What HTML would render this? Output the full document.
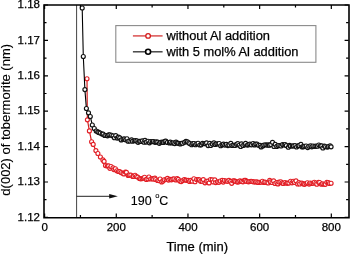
<!DOCTYPE html>
<html><head><meta charset="utf-8"><style>
html,body{margin:0;padding:0;background:#fff;}
svg{display:block;}
text{font-family:"Liberation Sans",Arial,sans-serif;fill:#000;stroke:#000;stroke-width:0.25px;}
</style></head><body>
<svg width="350" height="254" viewBox="0 0 350 254">
<rect width="350" height="254" fill="#fff"/>
<line x1="76.6" y1="5" x2="76.6" y2="217" stroke="#444" stroke-width="1"/>
<line x1="76.6" y1="196.3" x2="110" y2="196.3" stroke="#222" stroke-width="1"/>
<path d="M109.2 193.9L117.8 196.3L109.2 198.5Z" fill="#111"/>
<text x="130.8" y="205.4" font-size="12.5" style="stroke-width:0.12px">190 <tspan font-size="7.5" dy="-7.3">o</tspan><tspan dy="7.3">C</tspan></text>
<g fill="none" stroke-width="1">
<polyline points="87.0,78.7 87.4,119.8 89.4,130.9 91.6,141.7 93.2,144.4 95.9,150.6 97.9,153.5 100.4,157.0 102.9,159.9 104.1,161.4 105.5,165.6 107.4,166.1 108.6,165.9 109.9,168.3 111.0,166.5 113.0,167.8 113.9,169.6 115.4,168.7 116.9,170.7 118.4,171.5 119.7,171.6 121.1,172.6 122.9,173.3 123.9,173.9 125.4,172.1 126.4,172.3 128.2,175.5 129.2,175.0 130.8,175.1 132.8,176.4 133.5,176.3 135.1,175.2 136.3,176.5 137.7,177.1 139.5,178.5 140.6,178.8 142.1,178.6 143.4,178.0 144.6,177.2 146.3,179.4 147.9,178.9 148.9,177.0 150.6,179.0 152.1,178.5 153.1,179.1 154.9,178.1 155.7,179.5 157.6,180.5 158.8,180.6 160.1,179.0 161.7,181.9 163.0,181.0 164.2,179.7 166.1,179.2 167.5,178.4 168.5,180.1 170.0,179.3 171.4,179.8 172.8,179.1 174.0,178.9 175.9,179.9 177.1,178.5 178.3,179.4 179.8,181.0 181.1,181.6 182.7,180.6 184.2,179.5 185.6,180.1 186.7,180.3 188.3,180.3 189.5,181.4 190.8,180.4 192.3,181.2 193.9,178.7 195.0,181.7 196.6,179.5 198.2,179.5 199.4,179.9 200.7,181.3 202.1,181.2 203.3,179.6 205.0,182.8 206.5,181.2 207.9,181.1 209.1,182.9 210.5,179.5 212.2,179.8 213.3,182.0 214.8,179.8 215.7,182.6 217.5,181.8 218.9,182.3 220.2,181.0 222.2,180.3 223.2,182.1 224.3,180.5 226.1,181.0 227.5,181.3 228.9,180.3 230.6,181.4 231.7,183.3 233.1,180.7 234.4,180.9 235.7,181.4 237.3,182.1 238.7,181.8 239.9,180.8 241.4,181.3 242.9,181.8 244.3,180.3 245.6,180.3 246.7,181.4 248.5,181.8 249.8,181.5 251.1,181.4 252.6,181.5 253.9,181.9 255.5,182.0 256.8,181.7 258.0,182.4 259.7,182.3 261.2,182.2 262.4,181.2 264.0,182.5 265.0,182.1 266.9,182.5 268.1,183.0 269.7,180.4 270.4,181.9 272.0,182.5 273.6,180.9 275.0,183.5 276.8,182.5 277.9,183.9 279.0,182.1 280.8,181.7 282.1,182.9 283.3,183.5 285.0,182.5 286.5,183.2 287.6,183.1 288.9,183.1 290.6,181.2 292.0,182.8 293.2,181.2 294.5,182.4 296.0,180.8 297.6,184.0 298.9,182.6 299.7,184.0 301.8,183.1 303.4,183.9 304.6,184.3 306.1,183.5 307.3,182.7 309.1,184.1 310.1,183.0 311.8,183.4 313.2,183.2 314.3,182.2 315.9,183.0 316.8,184.2 318.6,182.3 319.6,182.5 321.4,184.2 322.6,183.7 324.1,184.2 325.3,184.3 326.9,182.3 328.4,182.5 329.5,183.5 331.1,183.2" stroke="#d42020" stroke-width="1.2"/>
<g stroke="#e21f26" stroke-width="1.15" fill="#fff"><circle cx="87.0" cy="78.7" r="2.0"/><circle cx="87.4" cy="119.8" r="2.0"/><circle cx="89.4" cy="130.9" r="2.0"/><circle cx="91.6" cy="141.7" r="2.0"/><circle cx="93.2" cy="144.4" r="2.0"/><circle cx="95.9" cy="150.6" r="2.0"/><circle cx="97.9" cy="153.5" r="2.0"/><circle cx="100.4" cy="157.0" r="2.0"/><circle cx="102.9" cy="159.9" r="2.0"/><circle cx="104.1" cy="161.4" r="2.0"/><circle cx="105.5" cy="165.6" r="2.0"/><circle cx="107.4" cy="166.1" r="2.0"/><circle cx="108.6" cy="165.9" r="2.0"/><circle cx="109.9" cy="168.3" r="2.0"/><circle cx="111.0" cy="166.5" r="2.0"/><circle cx="113.0" cy="167.8" r="2.0"/><circle cx="113.9" cy="169.6" r="2.0"/><circle cx="115.4" cy="168.7" r="2.0"/><circle cx="116.9" cy="170.7" r="2.0"/><circle cx="118.4" cy="171.5" r="2.0"/><circle cx="119.7" cy="171.6" r="2.0"/><circle cx="121.1" cy="172.6" r="2.0"/><circle cx="122.9" cy="173.3" r="2.0"/><circle cx="123.9" cy="173.9" r="2.0"/><circle cx="125.4" cy="172.1" r="2.0"/><circle cx="126.4" cy="172.3" r="2.0"/><circle cx="128.2" cy="175.5" r="2.0"/><circle cx="129.2" cy="175.0" r="2.0"/><circle cx="130.8" cy="175.1" r="2.0"/><circle cx="132.8" cy="176.4" r="2.0"/><circle cx="133.5" cy="176.3" r="2.0"/><circle cx="135.1" cy="175.2" r="2.0"/><circle cx="136.3" cy="176.5" r="2.0"/><circle cx="137.7" cy="177.1" r="2.0"/><circle cx="139.5" cy="178.5" r="2.0"/><circle cx="140.6" cy="178.8" r="2.0"/><circle cx="142.1" cy="178.6" r="2.0"/><circle cx="143.4" cy="178.0" r="2.0"/><circle cx="144.6" cy="177.2" r="2.0"/><circle cx="146.3" cy="179.4" r="2.0"/><circle cx="147.9" cy="178.9" r="2.0"/><circle cx="148.9" cy="177.0" r="2.0"/><circle cx="150.6" cy="179.0" r="2.0"/><circle cx="152.1" cy="178.5" r="2.0"/><circle cx="153.1" cy="179.1" r="2.0"/><circle cx="154.9" cy="178.1" r="2.0"/><circle cx="155.7" cy="179.5" r="2.0"/><circle cx="157.6" cy="180.5" r="2.0"/><circle cx="158.8" cy="180.6" r="2.0"/><circle cx="160.1" cy="179.0" r="2.0"/><circle cx="161.7" cy="181.9" r="2.0"/><circle cx="163.0" cy="181.0" r="2.0"/><circle cx="164.2" cy="179.7" r="2.0"/><circle cx="166.1" cy="179.2" r="2.0"/><circle cx="167.5" cy="178.4" r="2.0"/><circle cx="168.5" cy="180.1" r="2.0"/><circle cx="170.0" cy="179.3" r="2.0"/><circle cx="171.4" cy="179.8" r="2.0"/><circle cx="172.8" cy="179.1" r="2.0"/><circle cx="174.0" cy="178.9" r="2.0"/><circle cx="175.9" cy="179.9" r="2.0"/><circle cx="177.1" cy="178.5" r="2.0"/><circle cx="178.3" cy="179.4" r="2.0"/><circle cx="179.8" cy="181.0" r="2.0"/><circle cx="181.1" cy="181.6" r="2.0"/><circle cx="182.7" cy="180.6" r="2.0"/><circle cx="184.2" cy="179.5" r="2.0"/><circle cx="185.6" cy="180.1" r="2.0"/><circle cx="186.7" cy="180.3" r="2.0"/><circle cx="188.3" cy="180.3" r="2.0"/><circle cx="189.5" cy="181.4" r="2.0"/><circle cx="190.8" cy="180.4" r="2.0"/><circle cx="192.3" cy="181.2" r="2.0"/><circle cx="193.9" cy="178.7" r="2.0"/><circle cx="195.0" cy="181.7" r="2.0"/><circle cx="196.6" cy="179.5" r="2.0"/><circle cx="198.2" cy="179.5" r="2.0"/><circle cx="199.4" cy="179.9" r="2.0"/><circle cx="200.7" cy="181.3" r="2.0"/><circle cx="202.1" cy="181.2" r="2.0"/><circle cx="203.3" cy="179.6" r="2.0"/><circle cx="205.0" cy="182.8" r="2.0"/><circle cx="206.5" cy="181.2" r="2.0"/><circle cx="207.9" cy="181.1" r="2.0"/><circle cx="209.1" cy="182.9" r="2.0"/><circle cx="210.5" cy="179.5" r="2.0"/><circle cx="212.2" cy="179.8" r="2.0"/><circle cx="213.3" cy="182.0" r="2.0"/><circle cx="214.8" cy="179.8" r="2.0"/><circle cx="215.7" cy="182.6" r="2.0"/><circle cx="217.5" cy="181.8" r="2.0"/><circle cx="218.9" cy="182.3" r="2.0"/><circle cx="220.2" cy="181.0" r="2.0"/><circle cx="222.2" cy="180.3" r="2.0"/><circle cx="223.2" cy="182.1" r="2.0"/><circle cx="224.3" cy="180.5" r="2.0"/><circle cx="226.1" cy="181.0" r="2.0"/><circle cx="227.5" cy="181.3" r="2.0"/><circle cx="228.9" cy="180.3" r="2.0"/><circle cx="230.6" cy="181.4" r="2.0"/><circle cx="231.7" cy="183.3" r="2.0"/><circle cx="233.1" cy="180.7" r="2.0"/><circle cx="234.4" cy="180.9" r="2.0"/><circle cx="235.7" cy="181.4" r="2.0"/><circle cx="237.3" cy="182.1" r="2.0"/><circle cx="238.7" cy="181.8" r="2.0"/><circle cx="239.9" cy="180.8" r="2.0"/><circle cx="241.4" cy="181.3" r="2.0"/><circle cx="242.9" cy="181.8" r="2.0"/><circle cx="244.3" cy="180.3" r="2.0"/><circle cx="245.6" cy="180.3" r="2.0"/><circle cx="246.7" cy="181.4" r="2.0"/><circle cx="248.5" cy="181.8" r="2.0"/><circle cx="249.8" cy="181.5" r="2.0"/><circle cx="251.1" cy="181.4" r="2.0"/><circle cx="252.6" cy="181.5" r="2.0"/><circle cx="253.9" cy="181.9" r="2.0"/><circle cx="255.5" cy="182.0" r="2.0"/><circle cx="256.8" cy="181.7" r="2.0"/><circle cx="258.0" cy="182.4" r="2.0"/><circle cx="259.7" cy="182.3" r="2.0"/><circle cx="261.2" cy="182.2" r="2.0"/><circle cx="262.4" cy="181.2" r="2.0"/><circle cx="264.0" cy="182.5" r="2.0"/><circle cx="265.0" cy="182.1" r="2.0"/><circle cx="266.9" cy="182.5" r="2.0"/><circle cx="268.1" cy="183.0" r="2.0"/><circle cx="269.7" cy="180.4" r="2.0"/><circle cx="270.4" cy="181.9" r="2.0"/><circle cx="272.0" cy="182.5" r="2.0"/><circle cx="273.6" cy="180.9" r="2.0"/><circle cx="275.0" cy="183.5" r="2.0"/><circle cx="276.8" cy="182.5" r="2.0"/><circle cx="277.9" cy="183.9" r="2.0"/><circle cx="279.0" cy="182.1" r="2.0"/><circle cx="280.8" cy="181.7" r="2.0"/><circle cx="282.1" cy="182.9" r="2.0"/><circle cx="283.3" cy="183.5" r="2.0"/><circle cx="285.0" cy="182.5" r="2.0"/><circle cx="286.5" cy="183.2" r="2.0"/><circle cx="287.6" cy="183.1" r="2.0"/><circle cx="288.9" cy="183.1" r="2.0"/><circle cx="290.6" cy="181.2" r="2.0"/><circle cx="292.0" cy="182.8" r="2.0"/><circle cx="293.2" cy="181.2" r="2.0"/><circle cx="294.5" cy="182.4" r="2.0"/><circle cx="296.0" cy="180.8" r="2.0"/><circle cx="297.6" cy="184.0" r="2.0"/><circle cx="298.9" cy="182.6" r="2.0"/><circle cx="299.7" cy="184.0" r="2.0"/><circle cx="301.8" cy="183.1" r="2.0"/><circle cx="303.4" cy="183.9" r="2.0"/><circle cx="304.6" cy="184.3" r="2.0"/><circle cx="306.1" cy="183.5" r="2.0"/><circle cx="307.3" cy="182.7" r="2.0"/><circle cx="309.1" cy="184.1" r="2.0"/><circle cx="310.1" cy="183.0" r="2.0"/><circle cx="311.8" cy="183.4" r="2.0"/><circle cx="313.2" cy="183.2" r="2.0"/><circle cx="314.3" cy="182.2" r="2.0"/><circle cx="315.9" cy="183.0" r="2.0"/><circle cx="316.8" cy="184.2" r="2.0"/><circle cx="318.6" cy="182.3" r="2.0"/><circle cx="319.6" cy="182.5" r="2.0"/><circle cx="321.4" cy="184.2" r="2.0"/><circle cx="322.6" cy="183.7" r="2.0"/><circle cx="324.1" cy="184.2" r="2.0"/><circle cx="325.3" cy="184.3" r="2.0"/><circle cx="326.9" cy="182.3" r="2.0"/><circle cx="328.4" cy="182.5" r="2.0"/><circle cx="329.5" cy="183.5" r="2.0"/><circle cx="331.1" cy="183.2" r="2.0"/></g>
<polyline points="82.2,8.0 83.3,56.5 84.9,89.6 86.4,108.5 88.5,112.8 90.3,116.5 92.3,125.0 94.3,128.5 96.2,131.0 97.7,131.8 98.8,132.4 100.2,133.1 102.1,134.1 103.1,134.1 104.7,135.5 105.8,135.5 107.5,135.8 108.7,134.9 109.9,134.8 111.6,135.2 113.1,136.0 114.4,137.7 115.7,135.6 117.2,138.1 118.5,137.1 119.8,137.9 121.2,139.9 123.0,139.2 124.2,138.9 125.6,139.8 127.0,138.7 128.1,141.2 129.8,141.0 131.6,139.8 132.4,141.2 134.1,140.7 135.5,140.6 136.9,140.9 138.1,142.3 139.5,141.3 140.8,141.4 142.4,140.8 144.0,142.2 145.0,140.3 146.2,142.1 148.0,141.2 149.5,142.8 150.7,141.5 152.5,141.6 153.5,141.5 155.0,142.3 156.2,141.9 157.7,142.1 159.3,143.3 160.7,142.3 162.2,142.1 163.5,142.4 164.9,141.4 165.8,141.1 167.4,142.4 169.4,142.9 170.3,142.1 171.9,143.0 173.2,142.8 174.7,143.6 176.0,142.1 177.2,143.1 178.6,143.3 180.2,144.0 181.5,143.3 182.6,143.2 184.5,142.3 186.0,141.4 187.4,141.8 188.8,142.7 189.7,143.6 191.7,144.7 192.7,143.6 194.0,143.5 195.5,144.7 196.8,143.7 198.1,143.2 199.8,145.0 201.2,144.8 202.5,143.3 204.0,143.5 205.3,143.7 206.6,142.9 208.1,145.6 209.7,143.3 210.7,145.5 212.3,144.1 213.9,142.8 215.2,144.4 216.7,143.7 218.0,144.0 219.2,143.5 220.7,145.7 222.2,144.8 223.5,144.1 224.9,145.1 226.4,144.4 227.9,145.6 229.1,145.0 230.8,143.4 232.0,145.5 233.6,145.2 235.0,145.4 236.5,144.3 237.8,143.6 239.2,145.2 240.7,146.5 241.5,143.8 243.0,145.5 244.8,144.8 245.6,143.4 247.4,145.1 248.8,144.7 249.9,144.1 251.4,144.8 253.1,143.5 254.5,144.9 255.7,144.1 257.0,144.1 258.4,145.2 260.1,145.4 261.1,146.9 262.8,145.9 263.9,145.1 265.7,144.7 267.0,145.1 268.6,144.9 269.4,145.2 270.8,144.6 272.5,142.3 274.0,146.5 275.2,144.3 276.8,146.4 278.2,145.5 279.8,145.5 281.0,146.0 282.5,144.6 284.0,145.0 285.2,144.5 286.3,145.6 288.3,147.2 289.6,145.3 290.3,146.1 292.2,146.0 293.4,145.9 295.0,145.6 296.5,147.0 298.1,145.9 299.1,145.5 300.9,144.4 302.2,146.9 303.4,146.7 304.7,146.3 306.2,146.0 307.7,147.6 308.9,146.2 310.7,145.7 311.8,146.8 313.0,146.0 314.8,146.3 316.0,146.1 317.4,146.2 318.8,145.0 320.4,145.8 321.7,145.9 322.9,148.0 324.4,146.1 325.6,146.7 327.6,147.1 328.6,146.5 330.1,145.8 331.1,146.8" stroke="#000" stroke-width="1.1"/>
<g stroke="#111" stroke-width="1.15" fill="#fff"><circle cx="82.2" cy="8.0" r="2.0"/><circle cx="83.3" cy="56.5" r="2.0"/><circle cx="84.9" cy="89.6" r="2.0"/><circle cx="86.4" cy="108.5" r="2.0"/><circle cx="88.5" cy="112.8" r="2.0"/><circle cx="90.3" cy="116.5" r="2.0"/><circle cx="92.3" cy="125.0" r="2.0"/><circle cx="94.3" cy="128.5" r="2.0"/><circle cx="96.2" cy="131.0" r="2.0"/><circle cx="97.7" cy="131.8" r="2.0"/><circle cx="98.8" cy="132.4" r="2.0"/><circle cx="100.2" cy="133.1" r="2.0"/><circle cx="102.1" cy="134.1" r="2.0"/><circle cx="103.1" cy="134.1" r="2.0"/><circle cx="104.7" cy="135.5" r="2.0"/><circle cx="105.8" cy="135.5" r="2.0"/><circle cx="107.5" cy="135.8" r="2.0"/><circle cx="108.7" cy="134.9" r="2.0"/><circle cx="109.9" cy="134.8" r="2.0"/><circle cx="111.6" cy="135.2" r="2.0"/><circle cx="113.1" cy="136.0" r="2.0"/><circle cx="114.4" cy="137.7" r="2.0"/><circle cx="115.7" cy="135.6" r="2.0"/><circle cx="117.2" cy="138.1" r="2.0"/><circle cx="118.5" cy="137.1" r="2.0"/><circle cx="119.8" cy="137.9" r="2.0"/><circle cx="121.2" cy="139.9" r="2.0"/><circle cx="123.0" cy="139.2" r="2.0"/><circle cx="124.2" cy="138.9" r="2.0"/><circle cx="125.6" cy="139.8" r="2.0"/><circle cx="127.0" cy="138.7" r="2.0"/><circle cx="128.1" cy="141.2" r="2.0"/><circle cx="129.8" cy="141.0" r="2.0"/><circle cx="131.6" cy="139.8" r="2.0"/><circle cx="132.4" cy="141.2" r="2.0"/><circle cx="134.1" cy="140.7" r="2.0"/><circle cx="135.5" cy="140.6" r="2.0"/><circle cx="136.9" cy="140.9" r="2.0"/><circle cx="138.1" cy="142.3" r="2.0"/><circle cx="139.5" cy="141.3" r="2.0"/><circle cx="140.8" cy="141.4" r="2.0"/><circle cx="142.4" cy="140.8" r="2.0"/><circle cx="144.0" cy="142.2" r="2.0"/><circle cx="145.0" cy="140.3" r="2.0"/><circle cx="146.2" cy="142.1" r="2.0"/><circle cx="148.0" cy="141.2" r="2.0"/><circle cx="149.5" cy="142.8" r="2.0"/><circle cx="150.7" cy="141.5" r="2.0"/><circle cx="152.5" cy="141.6" r="2.0"/><circle cx="153.5" cy="141.5" r="2.0"/><circle cx="155.0" cy="142.3" r="2.0"/><circle cx="156.2" cy="141.9" r="2.0"/><circle cx="157.7" cy="142.1" r="2.0"/><circle cx="159.3" cy="143.3" r="2.0"/><circle cx="160.7" cy="142.3" r="2.0"/><circle cx="162.2" cy="142.1" r="2.0"/><circle cx="163.5" cy="142.4" r="2.0"/><circle cx="164.9" cy="141.4" r="2.0"/><circle cx="165.8" cy="141.1" r="2.0"/><circle cx="167.4" cy="142.4" r="2.0"/><circle cx="169.4" cy="142.9" r="2.0"/><circle cx="170.3" cy="142.1" r="2.0"/><circle cx="171.9" cy="143.0" r="2.0"/><circle cx="173.2" cy="142.8" r="2.0"/><circle cx="174.7" cy="143.6" r="2.0"/><circle cx="176.0" cy="142.1" r="2.0"/><circle cx="177.2" cy="143.1" r="2.0"/><circle cx="178.6" cy="143.3" r="2.0"/><circle cx="180.2" cy="144.0" r="2.0"/><circle cx="181.5" cy="143.3" r="2.0"/><circle cx="182.6" cy="143.2" r="2.0"/><circle cx="184.5" cy="142.3" r="2.0"/><circle cx="186.0" cy="141.4" r="2.0"/><circle cx="187.4" cy="141.8" r="2.0"/><circle cx="188.8" cy="142.7" r="2.0"/><circle cx="189.7" cy="143.6" r="2.0"/><circle cx="191.7" cy="144.7" r="2.0"/><circle cx="192.7" cy="143.6" r="2.0"/><circle cx="194.0" cy="143.5" r="2.0"/><circle cx="195.5" cy="144.7" r="2.0"/><circle cx="196.8" cy="143.7" r="2.0"/><circle cx="198.1" cy="143.2" r="2.0"/><circle cx="199.8" cy="145.0" r="2.0"/><circle cx="201.2" cy="144.8" r="2.0"/><circle cx="202.5" cy="143.3" r="2.0"/><circle cx="204.0" cy="143.5" r="2.0"/><circle cx="205.3" cy="143.7" r="2.0"/><circle cx="206.6" cy="142.9" r="2.0"/><circle cx="208.1" cy="145.6" r="2.0"/><circle cx="209.7" cy="143.3" r="2.0"/><circle cx="210.7" cy="145.5" r="2.0"/><circle cx="212.3" cy="144.1" r="2.0"/><circle cx="213.9" cy="142.8" r="2.0"/><circle cx="215.2" cy="144.4" r="2.0"/><circle cx="216.7" cy="143.7" r="2.0"/><circle cx="218.0" cy="144.0" r="2.0"/><circle cx="219.2" cy="143.5" r="2.0"/><circle cx="220.7" cy="145.7" r="2.0"/><circle cx="222.2" cy="144.8" r="2.0"/><circle cx="223.5" cy="144.1" r="2.0"/><circle cx="224.9" cy="145.1" r="2.0"/><circle cx="226.4" cy="144.4" r="2.0"/><circle cx="227.9" cy="145.6" r="2.0"/><circle cx="229.1" cy="145.0" r="2.0"/><circle cx="230.8" cy="143.4" r="2.0"/><circle cx="232.0" cy="145.5" r="2.0"/><circle cx="233.6" cy="145.2" r="2.0"/><circle cx="235.0" cy="145.4" r="2.0"/><circle cx="236.5" cy="144.3" r="2.0"/><circle cx="237.8" cy="143.6" r="2.0"/><circle cx="239.2" cy="145.2" r="2.0"/><circle cx="240.7" cy="146.5" r="2.0"/><circle cx="241.5" cy="143.8" r="2.0"/><circle cx="243.0" cy="145.5" r="2.0"/><circle cx="244.8" cy="144.8" r="2.0"/><circle cx="245.6" cy="143.4" r="2.0"/><circle cx="247.4" cy="145.1" r="2.0"/><circle cx="248.8" cy="144.7" r="2.0"/><circle cx="249.9" cy="144.1" r="2.0"/><circle cx="251.4" cy="144.8" r="2.0"/><circle cx="253.1" cy="143.5" r="2.0"/><circle cx="254.5" cy="144.9" r="2.0"/><circle cx="255.7" cy="144.1" r="2.0"/><circle cx="257.0" cy="144.1" r="2.0"/><circle cx="258.4" cy="145.2" r="2.0"/><circle cx="260.1" cy="145.4" r="2.0"/><circle cx="261.1" cy="146.9" r="2.0"/><circle cx="262.8" cy="145.9" r="2.0"/><circle cx="263.9" cy="145.1" r="2.0"/><circle cx="265.7" cy="144.7" r="2.0"/><circle cx="267.0" cy="145.1" r="2.0"/><circle cx="268.6" cy="144.9" r="2.0"/><circle cx="269.4" cy="145.2" r="2.0"/><circle cx="270.8" cy="144.6" r="2.0"/><circle cx="272.5" cy="142.3" r="2.0"/><circle cx="274.0" cy="146.5" r="2.0"/><circle cx="275.2" cy="144.3" r="2.0"/><circle cx="276.8" cy="146.4" r="2.0"/><circle cx="278.2" cy="145.5" r="2.0"/><circle cx="279.8" cy="145.5" r="2.0"/><circle cx="281.0" cy="146.0" r="2.0"/><circle cx="282.5" cy="144.6" r="2.0"/><circle cx="284.0" cy="145.0" r="2.0"/><circle cx="285.2" cy="144.5" r="2.0"/><circle cx="286.3" cy="145.6" r="2.0"/><circle cx="288.3" cy="147.2" r="2.0"/><circle cx="289.6" cy="145.3" r="2.0"/><circle cx="290.3" cy="146.1" r="2.0"/><circle cx="292.2" cy="146.0" r="2.0"/><circle cx="293.4" cy="145.9" r="2.0"/><circle cx="295.0" cy="145.6" r="2.0"/><circle cx="296.5" cy="147.0" r="2.0"/><circle cx="298.1" cy="145.9" r="2.0"/><circle cx="299.1" cy="145.5" r="2.0"/><circle cx="300.9" cy="144.4" r="2.0"/><circle cx="302.2" cy="146.9" r="2.0"/><circle cx="303.4" cy="146.7" r="2.0"/><circle cx="304.7" cy="146.3" r="2.0"/><circle cx="306.2" cy="146.0" r="2.0"/><circle cx="307.7" cy="147.6" r="2.0"/><circle cx="308.9" cy="146.2" r="2.0"/><circle cx="310.7" cy="145.7" r="2.0"/><circle cx="311.8" cy="146.8" r="2.0"/><circle cx="313.0" cy="146.0" r="2.0"/><circle cx="314.8" cy="146.3" r="2.0"/><circle cx="316.0" cy="146.1" r="2.0"/><circle cx="317.4" cy="146.2" r="2.0"/><circle cx="318.8" cy="145.0" r="2.0"/><circle cx="320.4" cy="145.8" r="2.0"/><circle cx="321.7" cy="145.9" r="2.0"/><circle cx="322.9" cy="148.0" r="2.0"/><circle cx="324.4" cy="146.1" r="2.0"/><circle cx="325.6" cy="146.7" r="2.0"/><circle cx="327.6" cy="147.1" r="2.0"/><circle cx="328.6" cy="146.5" r="2.0"/><circle cx="330.1" cy="145.8" r="2.0"/><circle cx="331.1" cy="146.8" r="2.0"/></g>
</g>
<rect x="115.8" y="25.6" width="200.1" height="36.7" fill="#fff" stroke="#8a8a8a" stroke-width="1.1"/>
<line x1="132.9" y1="35.9" x2="162.6" y2="35.9" stroke="#d84444" stroke-width="1.4"/>
<circle cx="148.1" cy="35.9" r="2.3" fill="#fff" stroke="#d41a1a" stroke-width="1.3"/>
<line x1="132.9" y1="51.8" x2="162.6" y2="51.8" stroke="#3a3a3a" stroke-width="1.4"/>
<circle cx="148.1" cy="51.7" r="2.5" fill="#fff" stroke="#000" stroke-width="1.6"/>
<text x="166.4" y="40" font-size="12.85">without Al addition</text>
<text x="166.4" y="56" font-size="12.85">with 5 mol% Al addition</text>
<path d="M44.60 217.6v-4M44.60 5v4M80.44 217.6v-2.5M80.44 5v2.5M116.28 217.6v-4M116.28 5v4M152.12 217.6v-2.5M152.12 5v2.5M187.96 217.6v-4M187.96 5v4M223.80 217.6v-2.5M223.80 5v2.5M259.64 217.6v-4M259.64 5v4M295.48 217.6v-2.5M295.48 5v2.5M331.32 217.6v-4M331.32 5v4M44 217.40h4M348.6 217.40h-4M44 199.70h2.5M348.6 199.70h-2.5M44 182.00h4M348.6 182.00h-4M44 164.30h2.5M348.6 164.30h-2.5M44 146.60h4M348.6 146.60h-4M44 128.90h2.5M348.6 128.90h-2.5M44 111.20h4M348.6 111.20h-4M44 93.50h2.5M348.6 93.50h-2.5M44 75.80h4M348.6 75.80h-4M44 58.10h2.5M348.6 58.10h-2.5M44 40.40h4M348.6 40.40h-4M44 22.70h2.5M348.6 22.70h-2.5M44 5.00h4M348.6 5.00h-4" stroke="#000" stroke-width="1.2" fill="none"/>
<path d="M44 4.25V218.6M43.25 5H349.8M349 4.25V218.6M43.25 217.8H349.8" fill="none" stroke="#000" stroke-width="1.6"/>
<g font-size="11.5"><text x="44.6" y="231" text-anchor="middle">0</text><text x="116.3" y="231" text-anchor="middle">200</text><text x="188.0" y="231" text-anchor="middle">400</text><text x="259.6" y="231" text-anchor="middle">600</text><text x="331.3" y="231" text-anchor="middle">800</text><text x="40" y="220.6" text-anchor="end">1.12</text><text x="40" y="185.2" text-anchor="end">1.13</text><text x="40" y="149.8" text-anchor="end">1.14</text><text x="40" y="114.4" text-anchor="end">1.15</text><text x="40" y="79.0" text-anchor="end">1.16</text><text x="40" y="43.6" text-anchor="end">1.17</text><text x="40" y="7.5" text-anchor="end">1.18</text></g>
<text x="197.2" y="251.4" font-size="13" text-anchor="middle">Time (min)</text>
<text transform="translate(9.6,119.8) rotate(-90)" font-size="13" style="stroke-width:0.12px" text-anchor="middle">d(002) of tobermorite (nm)</text>
</svg>
</body></html>
